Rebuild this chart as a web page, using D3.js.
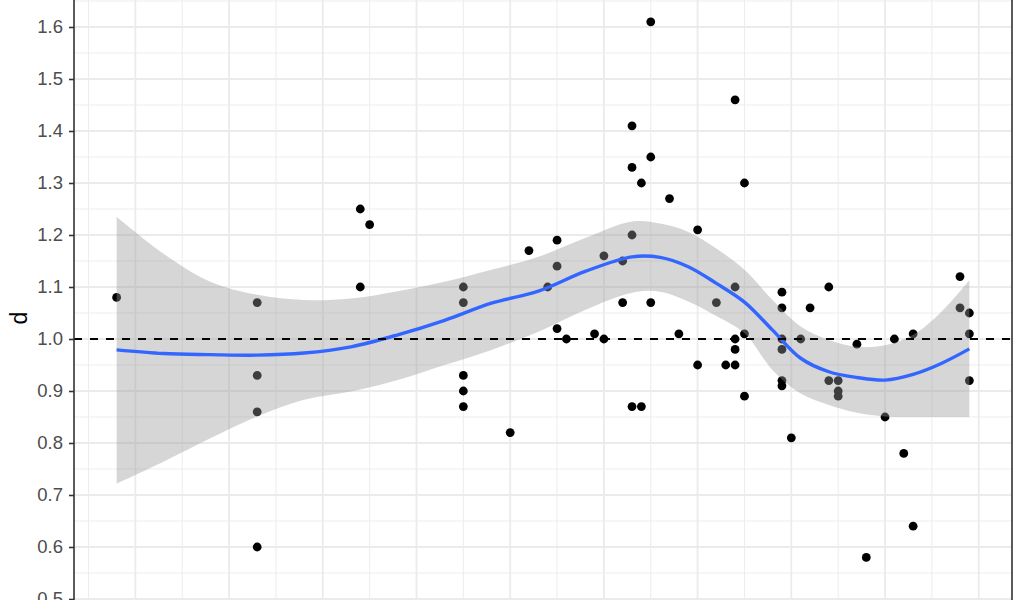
<!DOCTYPE html>
<html>
<head>
<meta charset="utf-8">
<script src="https://cdn.jsdelivr.net/npm/d3@7"></script>
<style>
  html, body { margin: 0; padding: 0; background: #fff; overflow: hidden; }
  svg { display: block; font-family: "Liberation Sans", Arial, sans-serif; }
</style>
</head>
<body>
<div id="chart"></div>
<script>
// points, one x per column of values
const pointX = [1908, 1923, 1934, 1935, 1945, 1950, 1952, 1954, 1955, 1956, 1959, 1960, 1962, 1963, 1964,
    1965, 1967, 1968, 1970, 1972, 1973, 1974, 1975, 1979, 1980, 1981, 1982, 1984, 1985, 1987, 1988,
    1990, 1991, 1992, 1993, 1998, 1999];
const pointD = [
    [1.08], [1.07, 0.93, 0.86, 0.60], [1.25, 1.10], [1.22], [1.10, 1.07, 0.93, 0.90, 0.87], [0.82],
    [1.17], [1.10], [1.19, 1.14, 1.02], [1.00], [1.01], [1.16, 1.00], [1.15, 1.07],
    [1.41, 1.33, 1.20, 0.87], [1.30, 0.87], [1.61, 1.35, 1.07], [1.27], [1.01], [1.21, 0.95],
    [1.07], [0.95], [1.46, 1.10, 1.00, 0.98, 0.95], [1.30, 1.01, 0.89],
    [1.09, 1.06, 1.00, 0.98, 0.92, 0.91], [0.81], [1.00], [1.06], [1.10, 0.92], [0.92, 0.90, 0.89],
    [0.99], [0.58], [0.85], [1.00], [0.78], [1.01, 0.64], [1.12, 1.06], [1.05, 1.01, 0.92]
];

// loess smooth
const smoothX = [1908, 1913, 1918, 1923, 1928, 1933, 1938, 1943, 1948, 1953, 1958, 1963, 1966, 1969,
    1972, 1975, 1978, 1981, 1984, 1987, 1990, 1993, 1996, 1999];
const smoothFit = [0.979, 0.972, 0.970, 0.969, 0.973, 0.985, 1.008, 1.036, 1.069, 1.092, 1.130, 1.158,
    1.157, 1.139, 1.107, 1.071, 1.017, 0.963, 0.937, 0.926, 0.921, 0.932, 0.953, 0.981];
const smoothUpper = [1.235, 1.164, 1.110, 1.085, 1.075, 1.078, 1.092, 1.110, 1.133, 1.158, 1.194, 1.226,
    1.222, 1.206, 1.174, 1.133, 1.075, 1.024, 0.998, 0.985, 0.988, 1.008, 1.052, 1.113];
const smoothLower = [0.722, 0.764, 0.809, 0.851, 0.883, 0.899, 0.921, 0.950, 0.979, 1.014, 1.056, 1.089,
    1.091, 1.072, 1.044, 1.011, 0.940, 0.895, 0.873, 0.858, 0.851, 0.850, 0.850, 0.850];

const yTicks = [0.5, 0.6, 0.7, 0.8, 0.9, 1.0, 1.1, 1.2, 1.3, 1.4, 1.5, 1.6];
const yMinor = [0.55, 0.65, 0.75, 0.85, 0.95, 1.05, 1.15, 1.25, 1.35, 1.45, 1.55, 1.65];
const xMajor = [1910, 1920, 1930, 1940, 1950, 1960, 1970, 1980, 1990, 2000];
const xMinor = [1905, 1915, 1925, 1935, 1945, 1955, 1965, 1975, 1985, 1995];
const refLine = 1.0;

const width = 1024, height = 600;
const panel = {left: 74, right: 1012};

const svg = d3.select("#chart").append("svg")
    .attr("width", width)
    .attr("height", height)
    .style("background-color", "#ffffff");

// x: data range plus 5% each side, like ggplot
const xExt = d3.extent(pointX);
const pad = (xExt[1] - xExt[0]) * 0.05;
const x = d3.scaleLinear()
    .domain([xExt[0] - pad, xExt[1] + pad])
    .range([panel.left, panel.right]);

// the picture is a crop, panel runs past top and bottom
const y = d3.scaleLinear()
    .domain([0.5, 1.6])
    .range([599, 27]);

svg.append("clipPath").attr("id", "clip")
  .append("rect")
    .attr("x", panel.left).attr("y", -20)
    .attr("width", panel.right - panel.left).attr("height", height + 40);

const plot = svg.append("g").attr("clip-path", "url(#clip)");

// grid
plot.selectAll(".ymin").data(yMinor).enter().append("line")
    .attr("x1", panel.left).attr("x2", panel.right)
    .attr("y1", d => y(d)).attr("y2", d => y(d))
    .attr("stroke", "#ebebeb").attr("stroke-width", 0.9);
plot.selectAll(".xmin").data(xMinor).enter().append("line")
    .attr("x1", d => x(d)).attr("x2", d => x(d))
    .attr("y1", -20).attr("y2", height + 20)
    .attr("stroke", "#ebebeb").attr("stroke-width", 0.9);
plot.selectAll(".ymaj").data(yTicks).enter().append("line")
    .attr("x1", panel.left).attr("x2", panel.right)
    .attr("y1", d => y(d)).attr("y2", d => y(d))
    .attr("stroke", "#ebebeb").attr("stroke-width", 1.8);
plot.selectAll(".xmaj").data(xMajor).enter().append("line")
    .attr("x1", d => x(d)).attr("x2", d => x(d))
    .attr("y1", -20).attr("y2", height + 20)
    .attr("stroke", "#ebebeb").attr("stroke-width", 1.8);

// points
const pts = [];
pointX.forEach((px, i) => pointD[i].forEach(v => pts.push({x: px, d: v})));
plot.selectAll("circle").data(pts).enter().append("circle")
    .attr("cx", d => x(d.x))
    .attr("cy", d => y(d.d))
    .attr("r", 4.4)
    .attr("fill", "#000000");

// smooth
const sm = smoothX.map((s, i) => ({x: s, fit: smoothFit[i], lo: smoothLower[i], hi: smoothUpper[i]}));
plot.append("path")
    .datum(sm)
    .attr("fill", "#999999")
    .attr("fill-opacity", 0.4)
    .attr("d", d3.area()
        .curve(d3.curveCatmullRom)
        .x(d => x(d.x))
        .y0(d => y(d.lo))
        .y1(d => y(d.hi)));

plot.append("path")
    .datum(sm)
    .attr("fill", "none")
    .attr("stroke", "#3366ff")
    .attr("stroke-width", 3.4)
    .attr("d", d3.line()
        .curve(d3.curveCatmullRom)
        .x(d => x(d.x))
        .y(d => y(d.fit)));

// reference line
plot.append("line")
    .attr("x1", panel.left).attr("x2", panel.right)
    .attr("y1", y(refLine)).attr("y2", y(refLine))
    .attr("stroke", "#000000")
    .attr("stroke-width", 2.2)
    .attr("stroke-dasharray", "8,8");

// panel border
svg.append("rect")
    .attr("x", panel.left).attr("y", -20)
    .attr("width", panel.right - panel.left).attr("height", height + 40)
    .attr("fill", "none")
    .attr("stroke", "#333333")
    .attr("stroke-width", 1.6);

// y axis
const yAxis = svg.append("g")
    .attr("transform", "translate(" + panel.left + ",0)")
    .call(d3.axisLeft(y)
        .tickValues(yTicks)
        .tickFormat(d3.format(".1f"))
        .tickSize(5)
        .tickPadding(6));
yAxis.select(".domain").remove();
yAxis.selectAll(".tick line").attr("stroke", "#333333").attr("stroke-width", 1.6);
yAxis.selectAll(".tick text")
    .attr("fill", "#4d4d4d")
    .style("font-size", "18.5px")
    .style("font-family", "'Liberation Sans', Arial, sans-serif");

svg.append("text")
    .attr("transform", "translate(27," + y(1.04) + ") rotate(-90)")
    .attr("text-anchor", "middle")
    .style("font-size", "23px")
    .attr("fill", "#000000")
    .text("d");
</script>
</body>
</html>
